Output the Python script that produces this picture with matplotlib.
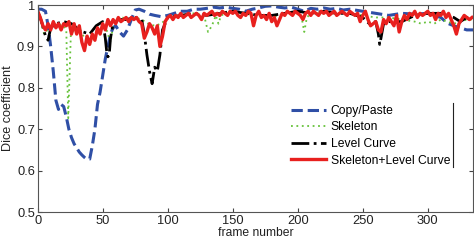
import numpy as np
import matplotlib
matplotlib.use('Agg')
import matplotlib.pyplot as plt
from matplotlib.ticker import FuncFormatter

plt.rcParams['font.family'] = ['Liberation Sans', 'DejaVu Sans']

# === Copy/Paste (blue dashed) ===
cp_frames = [0, 3, 6, 8, 10, 12, 14, 16, 18, 20, 22, 24, 26, 28, 30, 32, 34, 36, 38, 40,
             42, 44, 46, 48, 50, 52, 54, 56, 58, 60, 63, 66, 69, 72, 75, 78, 82, 86, 90, 95,
             100, 105, 110, 115, 120, 125, 130, 135, 140, 145, 150, 155, 160, 165, 170, 175,
             180, 185, 190, 195, 200, 205, 210, 215, 220, 225, 230, 235, 240, 250, 260, 270,
             280, 290, 300, 305, 310, 313, 316, 320, 325, 330, 335]
cp_dice = [0.99, 0.99, 0.985, 0.95, 0.90, 0.84, 0.77, 0.748, 0.76, 0.755, 0.73, 0.70, 0.68, 0.665,
           0.655, 0.645, 0.638, 0.632, 0.627, 0.628, 0.66, 0.70, 0.76, 0.79, 0.83, 0.87, 0.90,
           0.93, 0.945, 0.95, 0.935, 0.925, 0.94, 0.965, 0.988, 0.99, 0.985, 0.978, 0.975, 0.972,
           0.975, 0.98, 0.985, 0.985, 0.99, 0.99, 0.992, 0.995, 0.993, 0.995, 0.992, 0.99, 0.985,
           0.99, 0.993, 0.997, 0.998, 0.995, 0.993, 0.995, 0.99, 0.985, 0.992, 0.99, 0.993, 0.99,
           0.992, 0.988, 0.99, 0.985, 0.98, 0.975, 0.98, 0.978, 0.98, 0.975, 0.97, 0.962, 0.955,
           0.95, 0.945, 0.94, 0.94]

# === Skeleton (green dotted) ===
sk_frames = [0, 5, 10, 15, 20, 22, 23.5, 25.5, 28, 32, 36, 40, 45, 50, 53, 56, 58, 60, 65, 70,
             75, 80, 85, 90, 95, 100, 110, 120, 128, 131, 134, 137, 139, 141, 145, 150, 160,
             170, 180, 190, 200, 203, 205, 207, 210, 220, 230, 240, 250, 260, 270, 280, 290,
             295, 300, 305, 310, 315, 320, 325, 330, 335]
sk_dice = [0.985, 0.93, 0.95, 0.955, 0.95, 0.94, 0.727, 0.93, 0.94, 0.945, 0.92, 0.93, 0.95,
           0.96, 0.94, 0.91, 0.95, 0.965, 0.97, 0.965, 0.97, 0.965, 0.955, 0.95, 0.955, 0.97,
           0.975, 0.98, 0.975, 0.935, 0.95, 0.975, 0.955, 0.975, 0.98, 0.98, 0.98, 0.975,
           0.97, 0.98, 0.98, 0.97, 0.935, 0.97, 0.98, 0.98, 0.98, 0.98, 0.975, 0.97, 0.97,
           0.965, 0.96, 0.955, 0.96, 0.955, 0.965, 0.96, 0.955, 0.96, 0.965, 0.965]

# === Level Curve (black dash-dot) ===
lc_frames = [0, 3, 6, 8, 10, 14, 20, 26, 30, 35, 40, 45, 50, 52, 53, 54, 55, 56, 58, 62, 68,
             75, 80, 82, 84, 86, 88, 90, 92, 94, 96, 100, 110, 120, 130, 140, 150, 160, 170,
             180, 190, 200, 210, 220, 230, 240, 250, 255, 260, 262, 263, 264, 266, 270, 280,
             290, 300, 310, 320, 325, 330, 335]
lc_dice = [0.985, 0.96, 0.925, 0.915, 0.945, 0.955, 0.96, 0.955, 0.945, 0.935, 0.93, 0.95,
           0.96, 0.92, 0.89, 0.875, 0.88, 0.92, 0.955, 0.965, 0.965, 0.97, 0.965, 0.93, 0.88,
           0.84, 0.81, 0.85, 0.84, 0.88, 0.94, 0.97, 0.975, 0.98, 0.975, 0.98, 0.985, 0.98,
           0.975, 0.975, 0.98, 0.985, 0.98, 0.985, 0.98, 0.98, 0.97, 0.955, 0.96, 0.93, 0.905,
           0.92, 0.955, 0.96, 0.96, 0.975, 0.98, 0.98, 0.97, 0.96, 0.97, 0.97]

# === Skeleton+Level Curve (red solid), every 2 frames ===
slc_frames = np.arange(0, 336, 2)
slc_dice = [0.985, 0.97, 0.95, 0.94, 0.955, 0.94, 0.96, 0.945, 0.955, 0.94,
            0.955, 0.95, 0.96, 0.93, 0.955, 0.93, 0.95, 0.91, 0.89, 0.925,
            0.905, 0.93, 0.915, 0.945, 0.93, 0.955, 0.94, 0.965, 0.95, 0.965,
            0.955, 0.97, 0.96, 0.965, 0.97, 0.96, 0.97, 0.965, 0.97, 0.96,
            0.955, 0.92, 0.935, 0.955, 0.945, 0.93, 0.95, 0.90, 0.925, 0.96,
            0.97, 0.975, 0.965, 0.975, 0.97, 0.98, 0.97, 0.975, 0.98, 0.97,
            0.975, 0.98, 0.975, 0.965, 0.98, 0.975, 0.98, 0.985, 0.975, 0.98,
            0.975, 0.985, 0.98, 0.975, 0.985, 0.98, 0.985, 0.975, 0.97, 0.98,
            0.975, 0.985, 0.98, 0.95, 0.975, 0.985, 0.97, 0.975, 0.965, 0.98,
            0.96, 0.97, 0.95, 0.965, 0.98, 0.975, 0.985, 0.98, 0.975, 0.985,
            0.98, 0.975, 0.965, 0.98, 0.985, 0.975, 0.985, 0.98, 0.975, 0.985,
            0.98, 0.985, 0.975, 0.98, 0.985, 0.975, 0.98, 0.985, 0.98, 0.975,
            0.985, 0.98, 0.975, 0.98, 0.96, 0.975, 0.985, 0.965, 0.95, 0.955,
            0.96, 0.94, 0.935, 0.965, 0.955, 0.97, 0.96, 0.95, 0.975, 0.935,
            0.96, 0.975, 0.965, 0.98, 0.975, 0.985, 0.97, 0.98, 0.975, 0.98,
            0.985, 0.975, 0.98, 0.965, 0.98, 0.975, 0.985, 0.97, 0.98, 0.965,
            0.95, 0.93, 0.955, 0.965, 0.975, 0.97, 0.965, 0.97]

# === Plot ===
fs = 8.7
fig = plt.figure(figsize=(4.74, 2.41), dpi=100)
ax = fig.add_axes([0.0795, 0.12, 0.919, 0.859])

ax.plot(cp_frames, cp_dice, color='#2f4fa6', linestyle='--', linewidth=2.2, label='Copy/Paste')
ax.plot(sk_frames, sk_dice, color='#66c23a', linestyle=(0, (1, 2)), linewidth=1.3, label='Skeleton')
ax.plot(lc_frames, lc_dice, color='black', linestyle='-.', linewidth=2.0, label='Level Curve')
ax.plot(slc_frames, slc_dice, color='#e8201e', linestyle='-', linewidth=2.4, label='Skeleton+Level Curve')

ax.set_xlim(0, 335)
ax.set_ylim(0.5, 1.0)
ax.set_xticks([0, 50, 100, 150, 200, 250, 300])
ax.set_yticks([0.5, 0.6, 0.7, 0.8, 0.9, 1.0])
ax.yaxis.set_major_formatter(FuncFormatter(lambda v, p: '1' if v == 1 else f'{v:.1f}'))
ax.tick_params(direction='in', length=3, width=0.8, colors='#444', labelcolor='#222',
               labelsize=fs + 0.6, top=True, right=True, pad=2)
for s in ax.spines.values():
    s.set_color('#555')
    s.set_linewidth(0.8)

ax.set_xlabel('frame number', fontsize=fs, color='#222', labelpad=0)
ax.set_ylabel('Dice coefficient', fontsize=fs + 0.4, color='#222', labelpad=2)

ax.legend(loc='upper left', bbox_to_anchor=(0.581, 0.518), frameon=False, fontsize=fs,
          handlelength=2.9, handletextpad=0.4, labelspacing=0.38, borderpad=0, borderaxespad=0)
ax.plot([0.953, 0.953], [0.217, 0.527], transform=ax.transAxes, color='#222', linewidth=0.8)

fig.savefig('out.png', dpi=100)
